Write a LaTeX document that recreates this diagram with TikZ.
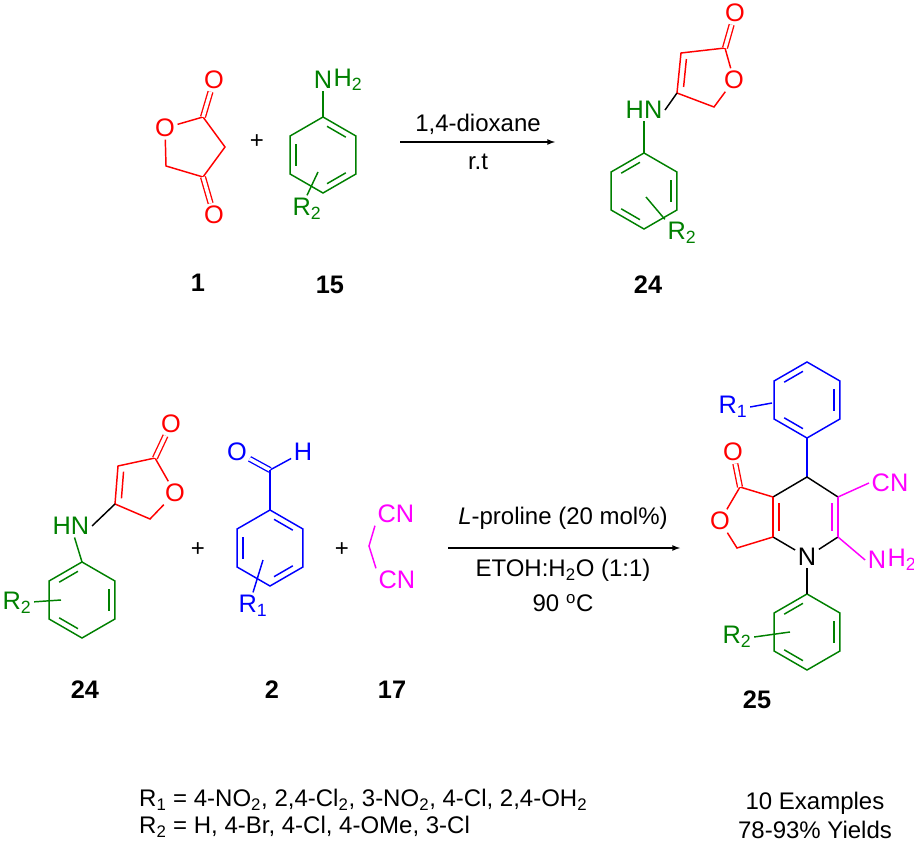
\documentclass[tikz,border=0pt]{standalone}
\usepackage{fontspec}
\setmainfont{Liberation Sans}
\usetikzlibrary{calc}
\definecolor{colG}{RGB}{0,128,0}
\definecolor{colB}{RGB}{0,0,255}
\definecolor{colR}{RGB}{255,0,0}
\definecolor{colM}{RGB}{255,0,255}
\newcommand\benzring[3]{%
 \begin{scope}[shift={#1},#2]
  \draw (-90:38)--(-30:38)--(30:38)--(90:38)--(150:38)--(210:38)--cycle;
  \foreach \k in {#3}{%
   \draw ($(-90+60*\k:31)!0.15!(-30+60*\k:31)$)--($(-30+60*\k:31)!0.15!(-90+60*\k:31)$);}
 \end{scope}}
\begin{document}
\begin{tikzpicture}[x=0.75pt,y=-0.75pt,line width=1.1pt,
 every node/.style={font=\fontsize{18}{20}\selectfont},
 atom/.style={inner sep=1.5pt,font=\fontsize{19}{20}\selectfont},
 hsub/.style={anchor=west,inner sep=0,xshift=-1.5pt,font=\fontsize{19}{20}\selectfont},
 dbl/.style={double,double distance=2.6pt,line width=1pt},
 lbl/.style={font=\fontsize{19}{20}\selectfont\bfseries}]
\useasboundingbox (0,0) rectangle (914,859);
% ---- compound 1
\begin{scope}[colR]
\coordinate (a1) at (203,117); \coordinate (a2) at (225,147);
\coordinate (a3) at (203,177); \coordinate (a4) at (166,166);
\node[atom,colR] (o1) at (165,128) {O};
\node[atom,colR] (o2) at (214,80) {O};
\node[atom,colR] (o3) at (214,215) {O};
\draw (o1)--(a1)--(a2)--(a3)--(a4)--(o1);
\draw[dbl] (a1)--(o2); \draw[dbl] (a3)--(o3);
\end{scope}
\node (p1) at (257,142) {+};
% ---- compound 15
\benzring{(323,155)}{colG}{0,2,4}
\coordinate (b15) at (323,117);
\node[atom,colG] (n15) at (323,80) {N};
\node[hsub,colG] at (n15.east) {H\textsubscript{2}};
\draw[colG] (n15)--(b15);
\coordinate (s15a) at (318,172); \node[colG,atom] (r15) at (307,209) {R\textsubscript{2}};
\draw[colG] (s15a)--(r15.north);
\node[lbl] (l1) at (198,283) {1};
\node[lbl] (l15) at (330,285) {15};
% ---- arrow 1
\coordinate (ar1s) at (400,142); \coordinate (ar1e) at (555,142);
\draw[-latex,line width=1pt] (ar1s)--(ar1e);
\node (t1) at (478,124) {1,4-dioxane};
\node (t2) at (478,162) {r.t};
% ---- compound 24 (top)
\begin{scope}[colR]
\coordinate (c1) at (725,48); \coordinate (c2) at (681,53);
\coordinate (c3) at (677,93); \coordinate (c4) at (714,107);
\node[atom,colR] (oe) at (735,13) {O};
\node[atom,colR] (or) at (734,80) {O};
\draw (or)--(c1)--(c2)--(c3)--(c4)--(or);
\draw[dbl] (c1)--(oe);
\draw ($(c2)!0.15!(c3)+(6,0)$)--($(c3)!0.15!(c2)+(6,0)$);
\end{scope}
\node[atom,colG] (hn24) at (644,110) {HN};
\draw (hn24.east)--(c3);
\benzring{(644,191)}{colG}{1,3,5}
\coordinate (b24) at (644,153);
\draw[colG] (hn24)--(b24);
\coordinate (s24) at (646,197); \node[colG,atom] (r24) at (682,233) {R\textsubscript{2}};
\draw[colG] (s24)--(r24.north west);
\node[lbl] (l24) at (648,285) {24};
% ---- compound 24 (bottom)
\begin{scope}[colR]
\coordinate (d1) at (155,458); \coordinate (d2) at (118,466);
\coordinate (d3) at (115,504); \coordinate (d4) at (150,519);
\node[atom,colR] (pe) at (171,424) {O};
\node[atom,colR] (pr) at (175,493) {O};
\draw (pr)--(d1)--(d2)--(d3)--(d4)--(pr);
\draw[dbl] (d1)--(pe);
\draw ($(d2)!0.15!(d3)+(6,0)$)--($(d3)!0.15!(d2)+(6,0)$);
\end{scope}
\node[atom,colG] (hn24b) at (71,526) {HN};
\draw (hn24b.east)--(d3);
\benzring{(82,600)}{colG}{1,3,5}
\coordinate (e24) at (82,562);
\draw[colG] (hn24b)--(e24);
\coordinate (s24b) at (61,600); \node[colG,atom] (r24b) at (17,603) {R\textsubscript{2}};
\draw[colG] (s24b)--(r24b);
\node[lbl] (l24b) at (85,690) {24};
\node (p2) at (198,550) {+};
% ---- compound 2
\coordinate (f1) at (270,470);
\node[atom,colB] (ob) at (237,452) {O};
\node[atom,colB] (hb) at (303,452) {H};
\draw[colB] (f1)--(hb);
\draw[dbl,colB] (f1)--(ob);
\benzring{(270,548)}{colB}{0,2,4}
\coordinate (g2) at (270,510);
\draw[colB] (f1)--(g2);
\coordinate (s2) at (263,560); \node[colB,atom] (r2) at (253,606) {R\textsubscript{1}};
\draw[colB] (s2)--(r2.north);
\node[lbl] (l2) at (272,690) {2};
\node (p3) at (342,550) {+};
% ---- compound 17
\coordinate (m1) at (369,546);
\node[atom,colM] (cn1) at (396,514) {CN};
\node[atom,colM] (cn2) at (397,580) {CN};
\draw[colM] (cn1.south west)--(m1)--(cn2.north west);
\node[lbl] (l17) at (392,690) {17};
% ---- arrow 2
\coordinate (ar2s) at (448,548); \coordinate (ar2e) at (680,548);
\draw[-latex,line width=1pt] (ar2s)--(ar2e);
\node (t3) at (563,518) {\textit{L}-proline (20 mol\%)};
\node (t4) at (563,570) {ETOH:H\textsubscript{2}O (1:1)};
\node (t5) at (563,603) {90 \textsuperscript{o}C};
% ---- compound 25
\benzring{(807,400)}{colB}{1,3,5}
\coordinate (q4) at (807,477); \coordinate (q4a) at (773,497);
\coordinate (q3) at (838,497); \coordinate (q2) at (838,537);
\coordinate (q7a) at (773,537); \coordinate (q5) at (740,487);
\coordinate (q7) at (737,548); \coordinate (qb) at (807,438);
\node[atom] (n25) at (807,557) {N};
\node[atom,colR] (o5) at (733,452) {O};
\node[atom,colR] (or25) at (720,521) {O};
\node[atom,colM] (cn25) at (890,483) {CN};
\node[atom,colM] (nh25) at (877,560) {N};
\node[hsub,colM] at (nh25.east) {H\textsubscript{2}};
\draw[colB] (qb)--(q4);
\draw (q4a)--(q4)--(q3);
\draw (q2)--(n25)--(q7a);
\draw[colR] (q4a)--(q7a);
\draw[colR] ($(q4a)!0.15!(q7a)+(6,0)$)--($(q7a)!0.15!(q4a)+(6,0)$);
\draw[colR] (q4a)--(q5)--(or25)--(q7)--(q7a);
\draw[colR,dbl] (q5)--(o5);
\draw[colM] (q3)--(q2);
\draw[colM] ($(q3)!0.15!(q2)+(-6,0)$)--($(q2)!0.15!(q3)+(-6,0)$);
\draw[colM] (q3)--(cn25.west);
\draw[colM] (q2)--(nh25.west);
\node[colB,atom] (r1p) at (733,407) {R\textsubscript{1}};
\coordinate (s25a) at (772,403);
\draw[colB] (r1p.east)--(s25a);
\benzring{(807,632)}{colG}{1,3,5}
\coordinate (h25) at (807,594);
\draw (n25)--(h25);
\node[colG,atom] (r2p) at (737,637) {R\textsubscript{2}};
\coordinate (s25b) at (790,632);
\draw[colG] (r2p.east)--(s25b);
\node[lbl] (l25) at (757,700) {25};
% ---- bottom text
\node[anchor=west] (tr1) at (134,800) {R\textsubscript{1} = 4-NO\textsubscript{2}, 2,4-Cl\textsubscript{2}, 3-NO\textsubscript{2}, 4-Cl, 2,4-OH\textsubscript{2}};
\node[anchor=west] (tr2) at (134,827) {R\textsubscript{2} = H, 4-Br, 4-Cl, 4-OMe, 3-Cl};
\node (ex) at (815,803) {10 Examples};
\node (yl) at (815,830) {78-93\% Yields};
\end{tikzpicture}
\end{document}
